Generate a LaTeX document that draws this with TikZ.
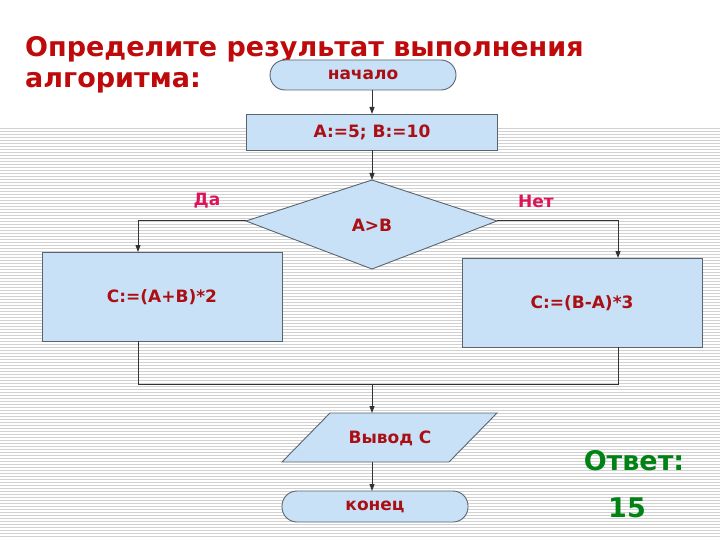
\documentclass[tikz,border=0pt]{standalone}
\usepackage{fontspec}
\setmainfont{DejaVu Sans}
\usetikzlibrary{shapes.geometric,arrows.meta}
\definecolor{boxfill}{RGB}{200,225,247}
\definecolor{boxline}{RGB}{90,100,110}
\definecolor{titlered}{RGB}{190,10,10}
\definecolor{txtred}{RGB}{170,15,20}
\definecolor{pink}{RGB}{220,20,90}
\definecolor{ansgreen}{RGB}{0,130,20}
\begin{document}
\begin{tikzpicture}[x=1pt,y=-1pt,
  blk/.style={draw=boxline,fill=boxfill,line width=0.9pt},
  lbl/.style={text=txtred,font=\bfseries\fontsize{17}{20}\selectfont},
  conn/.style={draw=black!80,line width=1pt},
  arr/.style={conn,-{Triangle[length=7pt,width=5pt]}}]
\useasboundingbox (0,0) rectangle (720,540);
\fill[white] (0,0) rectangle (720,540);
\foreach \y in {128,131,...,538} \draw[black!18,line width=0.6pt] (0,\y) -- (720,\y);
\node[anchor=base west,inner sep=0pt,text=titlered,font=\bfseries\fontsize{27}{30}\selectfont] (t1) at (25,57) {Определите результат выполнения};
\node[anchor=base west,inner sep=0pt,text=titlered,font=\bfseries\fontsize{27}{30}\selectfont] (t2) at (25,88) {алгоритма:};
\draw[blk,rounded corners=15pt] (270,60) rectangle (456,90);
\node[lbl] (start) at (363,75) {начало};
\draw[blk] (246,114) rectangle (497,150);
\node[lbl] (init) at (372,132) {A:=5; B:=10};
\draw[blk] (246,221) -- (372,180) -- (497,221) -- (372,269) -- cycle;
\node[lbl] (cond) at (372,225) {A>B};
\coordinate (dl) at (246,221); \coordinate (dr) at (497,221);
\node[text=pink,font=\bfseries\fontsize{17}{20}\selectfont] (yes) at (207,201) {Да};
\node[text=pink,font=\bfseries\fontsize{17}{20}\selectfont] (no) at (536,201) {Нет};
\draw[blk] (42,252) rectangle (282,341);
\node[lbl] (left) at (162,297) {C:=(A+B)*2};
\draw[blk] (462,258) rectangle (702,347);
\node[lbl] (right) at (582,303) {C:=(B-A)*3};
\draw[blk] (330,413) -- (497,413) -- (449,462) -- (282,462) -- cycle;
\node[lbl] (out) at (390,438) {Вывод C};
\draw[blk,rounded corners=15pt] (282,491) rectangle (468,522);
\node[lbl] (end) at (375,507) {конец};
\node[text=ansgreen,font=\bfseries\fontsize{27}{30}\selectfont] (ans) at (634,461) {Ответ:};
\node[text=ansgreen,font=\bfseries\fontsize{27}{30}\selectfont] (val) at (627,508) {15};
\coordinate (a1) at (372,90); \coordinate (a2) at (372,114);
\coordinate (b1) at (372,150); \coordinate (b2) at (372,180);
\draw[arr] (a1) -- (a2);
\draw[arr] (b1) -- (b2);
\coordinate (lt) at (138,252); \coordinate (rt) at (618,258);
\draw[arr] (dl) -| (lt);
\draw[arr] (dr) -| (rt);
\coordinate (lb) at (138,341); \coordinate (rb) at (618,347);
\coordinate (ml) at (138,384.5); \coordinate (mr) at (618,384.5);
\coordinate (m) at (372,384.5); \coordinate (o1) at (372,413);
\draw[conn] (lb) -- (ml) -- (mr) -- (rb);
\draw[arr] (m) -- (o1);
\coordinate (o2) at (372,462); \coordinate (e1) at (372,491);
\draw[arr] (o2) -- (e1);
\end{tikzpicture}
\end{document}
